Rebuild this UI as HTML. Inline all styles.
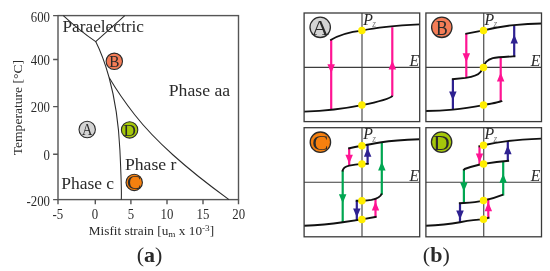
<!DOCTYPE html>
<html><head><meta charset="utf-8">
<style>
html,body{margin:0;padding:0;background:#fff;}
svg{display:block;}
text{font-family:"Liberation Serif","DejaVu Serif",serif;fill:#2a2a2a;}
.tk{font-size:13.8px;}
.lb{font-size:16.2px;}
.it{font-style:italic;font-size:15.8px;}
.ax{stroke:#555;stroke-width:1.4;fill:none;}
.cv{stroke:#2a2a2a;stroke-width:1.05;fill:none;}
.bk{stroke:#111;stroke-width:1.9;fill:none;stroke-linecap:butt;}
.mg{stroke:#ff1493;stroke-width:2.2;fill:none;}
.gn{stroke:#00a651;stroke-width:2.2;fill:none;}
.nv{stroke:#2e2191;stroke-width:2.2;fill:none;}
.fm{fill:#ff1493;}.fg{fill:#00a651;}.fn{fill:#2e2191;}
.yd{fill:#ffee00;}
.pn{stroke:#3a3a3a;stroke-width:1.3;fill:none;}
.ga{stroke:#3c3c3c;stroke-width:1.1;fill:none;}
</style></head>
<body>
<svg width="550" height="271" viewBox="0 0 550 271">
<rect width="550" height="271" fill="#fff"/>
<!-- (a) phase diagram -->
<g id="pa">
<rect class="ax" x="58" y="15.6" width="180.5" height="184"/>
<path class="ax" d="M53.1 15.6H58M53.1 59.5H58M53.1 106.6H58M53.1 154.2H58M53.1 199.6H58"/>
<path class="ax" d="M58 199.6V204.2M95.3 199.6V204.2M130.9 199.6V204.2M167 199.6V204.2M203 199.6V204.2M238.5 199.6V204.2"/>
<text class="tk" x="50" y="21.9" text-anchor="end" textLength="19.2" lengthAdjust="spacingAndGlyphs">600</text>
<text class="tk" x="50" y="65" text-anchor="end" textLength="19.2" lengthAdjust="spacingAndGlyphs">400</text>
<text class="tk" x="50" y="111.5" text-anchor="end" textLength="19.2" lengthAdjust="spacingAndGlyphs">200</text>
<text class="tk" x="50" y="159.5" text-anchor="end" textLength="6.4" lengthAdjust="spacingAndGlyphs">0</text>
<text class="tk" x="50" y="205.9" text-anchor="end" textLength="23.5" lengthAdjust="spacingAndGlyphs">-200</text>
<text class="tk" x="57.9" y="218.6" text-anchor="middle" textLength="10.7" lengthAdjust="spacingAndGlyphs">-5</text>
<text class="tk" x="95" y="218.6" text-anchor="middle" textLength="6.4" lengthAdjust="spacingAndGlyphs">0</text>
<text class="tk" x="130.9" y="218.6" text-anchor="middle" textLength="6.4" lengthAdjust="spacingAndGlyphs">5</text>
<text class="tk" x="167" y="218.6" text-anchor="middle" textLength="12.8" lengthAdjust="spacingAndGlyphs">10</text>
<text class="tk" x="203" y="218.6" text-anchor="middle" textLength="12.8" lengthAdjust="spacingAndGlyphs">15</text>
<text class="tk" x="238.7" y="218.6" text-anchor="middle" textLength="12.8" lengthAdjust="spacingAndGlyphs">20</text>
<text class="tk" x="88.8" y="235" style="font-size:13px" textLength="125.3" lengthAdjust="spacingAndGlyphs">Misfit strain [u<tspan style="font-size:9px" dy="1.5">m</tspan><tspan dy="-1.5"> x 10</tspan><tspan style="font-size:9px" dy="-4">-3</tspan><tspan dy="4">]</tspan></text>
<text class="tk" style="font-size:13px" transform="translate(21.7 155.3) rotate(-90)" textLength="95.3" lengthAdjust="spacingAndGlyphs">Temperature [°C]</text>
<path class="cv" d="M63.3 15.6Q80 31 95.7 41.6L124.8 15.6"/>
<path class="cv" d="M95.7 41.6Q103 56 109.1 77.5"/>
<path class="cv" d="M109.1 77.5Q118 110 119.9 150T121.3 199.6"/>
<path class="cv" d="M109.1 77.5Q120 96 134.9 115T173.1 155T229 199.6"/>
<text class="lb" x="62.5" y="31.6" textLength="81.4" lengthAdjust="spacingAndGlyphs">Paraelectric</text>
<text class="lb" x="168.8" y="96.3" textLength="61.3" lengthAdjust="spacingAndGlyphs">Phase aa</text>
<text class="lb" x="124.9" y="169.6" textLength="51.5" lengthAdjust="spacingAndGlyphs">Phase r</text>
<text class="lb" x="61.2" y="189.1" textLength="52.9" lengthAdjust="spacingAndGlyphs">Phase c</text>
<g stroke="#2a2a2a" stroke-width="1.1">
<circle cx="87.2" cy="129.5" r="8.2" fill="#d4d4d4"/>
<circle cx="114.3" cy="61.3" r="8.2" fill="#f47d57"/>
<circle cx="134.2" cy="182.4" r="8.2" fill="#f5800f"/>
<circle cx="129.6" cy="129.9" r="8.2" fill="#a5c70a"/>
</g>
<g font-size="17" text-anchor="middle">
<text transform="translate(87.2 135.2) scale(0.85 1)">A</text>
<text transform="translate(114.4 67.1) scale(0.9 1)">B</text>
<text transform="translate(134.2 189) scale(1.1 1)" font-size="19.5">C</text>
<text transform="translate(129.6 135.8) scale(0.98 1)" font-size="17.5">D</text>
</g>
<text x="149.6" y="262.3" font-size="22" text-anchor="middle" fill="#111">(<tspan font-weight="bold">a</tspan>)</text>
</g>
<!-- (b) hysteresis panels -->
<g id="pb">
<g>
<path class="ga" d="M362 13V121.6M304.1 67.4H419.7"/>
<path class="mg" d="M331.2 40V109.2M392.3 27.3V96"/>
<path class="fm" d="M327.4 64.3H334.9L331.2 73.3ZM388.6 69.6H396.1L392.3 60.6Z"/>
<path class="bk" d="M330.2 40.2Q343 32.6 362 30.6Q382 26.2 419.7 24.4"/>
<path class="bk" d="M304.1 111.6Q335 110.6 361.9 105.1T392.6 95.8"/>
<circle class="yd" cx="361.9" cy="30.6" r="3.75"/><circle class="yd" cx="361.9" cy="105.1" r="3.75"/>
<rect class="pn" x="304.1" y="13" width="115.6" height="108.6"/>
<circle cx="320.2" cy="27.3" r="10.2" fill="#d4d4d4" stroke="#2a2a2a" stroke-width="1.3"/>
<text transform="translate(320.2 34.5) scale(1.15 1)" font-size="21" text-anchor="middle">A</text>
<text class="it" x="363.3" y="24.6">P<tspan font-size="9.5" dy="2.6" dx="-0.6" fill="#808080">z</tspan></text>
<text class="it" x="409.6" y="66.1">E</text>
</g>
<g>
<path class="ga" d="M483.75 13V121.6M425.9 67.4H541.5"/>
<path class="mg" d="M466.3 34V77.8M500.7 57.2V100.8"/>
<path class="nv" d="M514.2 25.1V56.8M452.9 79.2V109.6"/>
<path class="fm" d="M462.6 53.2H470.1L466.3 62.2ZM496.9 81.6H504.4L500.7 72.6Z"/>
<path class="fn" d="M510.5 43.6H518.0L514.2 34.6ZM449.1 91.4H456.6L452.9 100.4Z"/>
<path class="bk" d="M465.3 33.9L483.6 30.4Q500 26.6 513.9 25.1Q528 23.6 541.5 23.5"/>
<path class="bk" d="M451.9 79.3L465.6 77.9C472 77 478 75.5 480.5 72C482 70 483 68.5 483.5 67.4C484.3 62.5 487.5 59.8 492.8 58.2C497 57.2 505 56.8 515.3 56.2"/>
<path class="bk" d="M425.9 111Q440 110.8 452.9 109.6T483.5 105.1T502 100.6"/>
<circle class="yd" cx="483.5" cy="30.6" r="3.75"/><circle class="yd" cx="483.5" cy="67.4" r="3.75"/><circle class="yd" cx="483.5" cy="105.1" r="3.75"/>
<rect class="pn" x="425.9" y="13" width="115.6" height="108.6"/>
<circle cx="441.8" cy="27.3" r="10.2" fill="#f47d57" stroke="#2a2a2a" stroke-width="1.3"/>
<text transform="translate(441.8 34.7) scale(0.84 1)" font-size="21" text-anchor="middle">B</text>
<text class="it" x="484.4" y="24.5">P<tspan font-size="9.5" dy="2.6" dx="-0.6" fill="#808080">z</tspan></text>
<text class="it" x="530.8" y="66.1">E</text>
</g>
<g>
<path class="ga" d="M362 127.7V236.8M304.1 182.2H419.7"/>
<path class="gn" d="M342.7 170.4V222.3M381.8 142.3V194.7"/>
<path class="mg" d="M349.2 148.3V165.6M375.5 198V217"/>
<path class="nv" d="M367.6 144.6V163.9M356.8 200.7V220.6"/>
<path class="fg" d="M338.9 194.2H346.4L342.7 203.2ZM378.1 170.6H385.6L381.8 161.6Z"/>
<path class="fm" d="M345.4 154.8H352.9L349.2 163.8ZM371.8 210.4H379.2L375.5 201.4Z"/>
<path class="fn" d="M363.9 156.8H371.4L367.6 147.8ZM353.1 208.4H360.6L356.8 217.4Z"/>
<path class="bk" d="M348.2 148.5Q355 147 361.9 145.7T381.5 142.3T419.7 139.2"/>
<path class="bk" d="M342.4 171.5C343 167.5 346 166.2 349.2 165.6Q355 164.5 361.9 163.9H368.7"/>
<path class="bk" d="M355.7 200.7L363 200.7Q368 200.5 371.5 199.9C376 199 380.5 197.5 381.8 193.5"/>
<path class="bk" d="M304.1 225.8Q325 225.2 342.7 222.3L361.9 219.4L376.6 216.8"/>
<circle class="yd" cx="361.9" cy="145.7" r="3.75"/><circle class="yd" cx="361.9" cy="163.9" r="3.75"/><circle class="yd" cx="361.9" cy="200.7" r="3.75"/><circle class="yd" cx="361.9" cy="219.4" r="3.75"/>
<rect class="pn" x="304.1" y="127.7" width="115.6" height="109.1"/>
<circle cx="320.4" cy="142.2" r="10.2" fill="#f5800f" stroke="#2a2a2a" stroke-width="1.3"/>
<text transform="translate(320.4 149.8) scale(1.1 1)" font-size="22" text-anchor="middle">C</text>
<text class="it" x="363.2" y="139.3">P<tspan font-size="9.5" dy="2.6" dx="-0.6" fill="#808080">z</tspan></text>
<text class="it" x="409.6" y="181.2">E</text>
</g>
<g>
<path class="ga" d="M483.75 127.7V236.8M425.9 182.2H541.5"/>
<path class="gn" d="M463.9 169.6V203M503.2 161.2V195.6"/>
<path class="mg" d="M479.5 146.4V164.4M488.3 198.6V217.7"/>
<path class="nv" d="M507.8 141.1V160.8M460 203.3V222.2"/>
<path class="fg" d="M460.1 182.6H467.6L463.9 191.6ZM499.4 182.8H506.9L503.2 173.8Z"/>
<path class="fm" d="M475.8 153.6H483.2L479.5 162.6ZM484.6 211.3H492.1L488.3 202.3Z"/>
<path class="fn" d="M504.1 154.2H511.6L507.8 145.2ZM456.2 210.5H463.8L460.0 219.5Z"/>
<path class="bk" d="M478.5 146.5L483.5 145.2Q495 142.7 507.5 141.1T541.5 138.6"/>
<path class="bk" d="M463.4 170.4L464.6 169Q472 166.4 480 164.5L483.5 163.9Q497 161.8 509.1 160.8"/>
<path class="bk" d="M458.9 203.3L463.9 203Q476 202.2 483.5 200.6Q494 198.3 503.2 194.6"/>
<path class="bk" d="M425.9 225.8Q445 225 460 222.2T483.5 219.4L489.4 217.5"/>
<circle class="yd" cx="483.5" cy="145.2" r="3.75"/><circle class="yd" cx="483.5" cy="163.9" r="3.75"/><circle class="yd" cx="483.5" cy="200.6" r="3.75"/><circle class="yd" cx="483.5" cy="219.2" r="3.75"/>
<rect class="pn" x="425.9" y="127.7" width="115.6" height="109.1"/>
<circle cx="441.6" cy="142.1" r="10.2" fill="#a5c70a" stroke="#2a2a2a" stroke-width="1.3"/>
<text transform="translate(441.6 149.5) scale(1.06 1)" font-size="21.5" text-anchor="middle">D</text>
<text class="it" x="484.4" y="139.3">P<tspan font-size="9.5" dy="2.6" dx="-0.6" fill="#808080">z</tspan></text>
<text class="it" x="530.8" y="181.2">E</text>
</g>
<text x="436.3" y="261.8" font-size="22" text-anchor="middle" fill="#111">(<tspan font-weight="bold">b</tspan>)</text>
</g>
</svg>
</body></html>
